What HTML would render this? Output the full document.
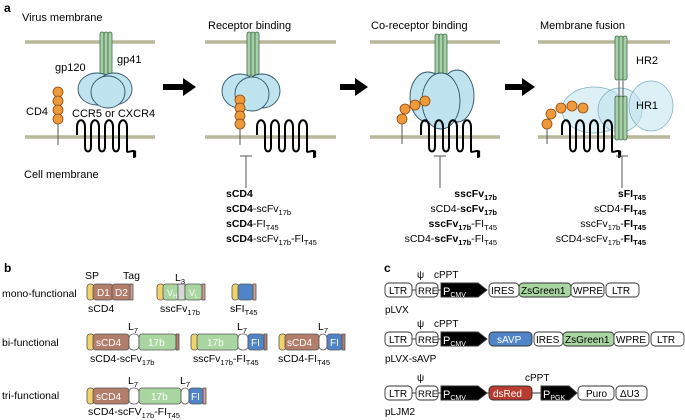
<!DOCTYPE html>
<html><head><meta charset="utf-8"><style>
html,body{margin:0;padding:0;background:#fff;}
svg{display:block;font-family:"Liberation Sans",Arial,sans-serif;}
</style></head><body>
<svg width="685" height="420" viewBox="0 0 685 420" xmlns="http://www.w3.org/2000/svg">
<defs>
<path id="coil" d="M0,20 v-8 c0,-9 8,-9 8,0 v20 c0,6 6,6 6,0 v-20 c0,-9 8,-9 8,0 v20 c0,6 6,6 6,0 v-20 c0,-9 8,-9 8,0 v20 c0,6 6,6 6,0 v-20 c0,-9 8,-9 8,0 v24 c0,2 3,0 6,0 c3,0 3,2 0,2 c3,0 3,2 0,2 c3,0 3,2 0,2" fill="none" stroke="#000" stroke-width="2"/>
<g id="stalk"><rect x="0" y="0" width="4" height="44" rx="2" fill="#a8d0a8" stroke="#3e6b47" stroke-width="0.8"/><rect x="4" y="0" width="4" height="44" rx="2" fill="#a8d0a8" stroke="#3e6b47" stroke-width="0.8"/><rect x="8" y="0" width="4" height="44" rx="2" fill="#a8d0a8" stroke="#3e6b47" stroke-width="0.8"/></g>
</defs>
<g font-size="11">
<text x="4" y="12" font-weight="bold" font-size="12">a</text>
<g stroke="#b8b89c" stroke-width="3.5">
<line x1="25" y1="42" x2="155" y2="42"/><line x1="25" y1="137" x2="155" y2="137"/>
<line x1="205" y1="42" x2="336" y2="42"/><line x1="205" y1="137" x2="336" y2="137"/>
<line x1="370" y1="42" x2="500" y2="42"/><line x1="370" y1="137" x2="500" y2="137"/>
<line x1="538" y1="42" x2="670" y2="42"/><line x1="538" y1="137" x2="670" y2="137"/>
</g>
<!-- panel 1 -->
<text x="22" y="21">Virus membrane</text>
<use href="#stalk" x="100" y="32"/>
<g fill="#bfe3ef" stroke="#2f5566" stroke-width="0.9">
<ellipse cx="97" cy="89" rx="19" ry="16"/><ellipse cx="114" cy="89" rx="18" ry="16"/><ellipse cx="108" cy="92" rx="17" ry="16"/>
</g>
<text x="55" y="71">gp120</text><text x="117" y="63">gp41</text>
<line x1="58" y1="120" x2="58" y2="145" stroke="#555" stroke-width="1"/>
<g fill="#ef9a3a" stroke="#8a4a10" stroke-width="0.8"><circle cx="58" cy="92" r="5"/><circle cx="58" cy="101" r="5"/><circle cx="58" cy="110" r="5"/><circle cx="58" cy="119" r="5"/></g>
<text x="26" y="115">CD4</text><text x="72" y="117">CCR5 or CXCR4</text>
<use href="#coil" x="77" y="115"/>
<text x="24" y="178">Cell membrane</text>
<g fill="#000"><path d="M163,84 h20 v-6 l13,9 -13,9 v-6 h-20z"/><path d="M340,84 h15 v-6 l13,9 -13,9 v-6 h-15z"/><path d="M505,84 h17 v-6 l13,9 -13,9 v-6 h-17z"/></g>
<!-- panel 2 -->
<text x="208" y="29">Receptor binding</text>
<use href="#stalk" x="247" y="32"/>
<g fill="#bfe3ef" stroke="#2f5566" stroke-width="0.9">
<ellipse cx="240" cy="91" rx="18" ry="17"/><ellipse cx="262" cy="91" rx="18" ry="17"/><ellipse cx="252" cy="94" rx="17" ry="17"/>
</g>
<line x1="240" y1="124" x2="240" y2="145" stroke="#555"/>
<g fill="#ef9a3a" stroke="#8a4a10" stroke-width="0.8"><circle cx="240" cy="100" r="5"/><circle cx="240" cy="108" r="5"/><circle cx="240" cy="116" r="5"/><circle cx="240" cy="124" r="5"/></g>
<use href="#coil" x="257" y="115"/>
<g stroke="#555"><line x1="246" y1="156" x2="246" y2="188"/><line x1="240" y1="156" x2="252" y2="156"/></g>
<g font-size="10.5"><text x="226" y="197" font-weight="bold">sCD4</text>
<text x="226" y="212"><tspan font-weight="bold">sCD4</tspan>-scFv<tspan font-size="7.5" dy="3">17b</tspan></text>
<text x="226" y="227"><tspan font-weight="bold">sCD4</tspan>-FI<tspan font-size="7.5" dy="3">T45</tspan></text>
<text x="226" y="242"><tspan font-weight="bold">sCD4</tspan>-scFv<tspan font-size="7.5" dy="3">17b</tspan><tspan dy="-3">-FI</tspan><tspan font-size="7.5" dy="3">T45</tspan></text></g>
<!-- panel 3 -->
<text x="371" y="29">Co-receptor binding</text>
<use href="#stalk" x="435" y="34"/>
<g fill="#bfe3ef" stroke="#2f5566" stroke-width="0.9">
<ellipse cx="428" cy="97" rx="18" ry="25"/><ellipse cx="457" cy="96" rx="17" ry="26"/><ellipse cx="441" cy="101" rx="19" ry="28"/>
</g>
<line x1="402" y1="120" x2="402" y2="144" stroke="#555"/>
<g fill="#ef9a3a" stroke="#8a4a10" stroke-width="0.8"><circle cx="402" cy="119" r="5"/><circle cx="405" cy="109" r="5"/><circle cx="415" cy="105" r="5"/><circle cx="425" cy="101" r="5"/></g>
<use href="#coil" x="421" y="115"/>
<g stroke="#555"><line x1="440" y1="156" x2="440" y2="188"/><line x1="434" y1="156" x2="446" y2="156"/></g>
<g font-size="10.5" text-anchor="end">
<text x="497" y="197" font-weight="bold">sscFv<tspan font-size="7.5" dy="3">17b</tspan></text>
<text x="497" y="212">sCD4-<tspan font-weight="bold">scFv</tspan><tspan font-weight="bold" font-size="7.5" dy="3">17b</tspan></text>
<text x="497" y="227"><tspan font-weight="bold">sscFv</tspan><tspan font-weight="bold" font-size="7.5" dy="3">17b</tspan><tspan dy="-3">-FI</tspan><tspan font-size="7.5" dy="3">T45</tspan></text>
<text x="497" y="242">sCD4-<tspan font-weight="bold">scFv</tspan><tspan font-weight="bold" font-size="7.5" dy="3">17b</tspan><tspan dy="-3">-FI</tspan><tspan font-size="7.5" dy="3">T45</tspan></text></g>
<!-- panel 4 -->
<text x="540" y="29">Membrane fusion</text>
<g fill="#bfe3ef" fill-opacity="0.55" stroke="#7fb0c0" stroke-width="0.7">
<ellipse cx="594" cy="110" rx="32" ry="23"/><ellipse cx="620" cy="110" rx="22" ry="22"/><ellipse cx="651" cy="106" rx="22" ry="25"/>
</g>
<use href="#stalk" x="615" y="36"/>
<g stroke="#333" stroke-width="0.8"><line x1="619" y1="80" x2="619" y2="97"/><line x1="623" y1="80" x2="623" y2="97"/></g>
<use href="#stalk" x="615" y="96"/>
<text x="636" y="64">HR2</text><text x="636" y="109">HR1</text>
<line x1="547" y1="125" x2="547" y2="144" stroke="#555"/>
<g fill="#ef9a3a" stroke="#8a4a10" stroke-width="0.8"><circle cx="547" cy="124" r="5"/><circle cx="551" cy="114" r="5"/><circle cx="561" cy="108" r="5"/><circle cx="572" cy="106" r="5"/><circle cx="583" cy="108" r="5"/></g>
<use href="#coil" x="562" y="115"/>
<g stroke="#555"><line x1="622" y1="156" x2="622" y2="188"/><line x1="616" y1="156" x2="628" y2="156"/></g>
<g font-size="10.5" text-anchor="end">
<text x="646" y="197" font-weight="bold">sFI<tspan font-size="7.5" dy="3">T45</tspan></text>
<text x="646" y="212">sCD4-<tspan font-weight="bold">FI</tspan><tspan font-weight="bold" font-size="7.5" dy="3">T45</tspan></text>
<text x="646" y="227">sscFv<tspan font-size="7.5" dy="3">17b</tspan><tspan dy="-3">-</tspan><tspan font-weight="bold">FI</tspan><tspan font-weight="bold" font-size="7.5" dy="3">T45</tspan></text>
<text x="646" y="242">sCD4-scFv<tspan font-size="7.5" dy="3">17b</tspan><tspan dy="-3">-</tspan><tspan font-weight="bold">FI</tspan><tspan font-weight="bold" font-size="7.5" dy="3">T45</tspan></text></g>
</g>

<!-- panel b -->
<g font-size="10.5">
<text x="4" y="272" font-weight="bold" font-size="12">b</text>
<text x="2" y="297">mono-functional</text>
<text x="2" y="346">bi-functional</text>
<text x="2" y="399">tri-functional</text>
<text x="85" y="279">SP</text><text x="123" y="279">Tag</text>
<text x="175" y="281">L<tspan font-size="7.5" dy="3">3</tspan></text>
<g stroke="#555" stroke-width="0.8">
<rect x="87" y="284" width="7" height="16" rx="3" fill="#f2d36a"/>
<rect x="93" y="284" width="20" height="16" rx="3" fill="#b27d6a"/><rect x="112" y="284" width="19" height="16" rx="3" fill="#b27d6a"/>
<rect x="130" y="284" width="3" height="16" fill="#d49a90"/>
<rect x="157" y="284" width="7" height="16" rx="3" fill="#f2d36a"/>
<rect x="163" y="284" width="16" height="16" rx="3" fill="#a9d6a0"/><rect x="178" y="284" width="7" height="16" fill="#d8d8d8"/><rect x="185" y="284" width="17" height="16" rx="3" fill="#a9d6a0"/>
<rect x="202" y="284" width="3" height="16" fill="#d49a90"/>
<rect x="232" y="284" width="7" height="16" rx="3" fill="#f2d36a"/>
<rect x="238" y="284" width="15" height="16" rx="3" fill="#4f85c8"/><rect x="253" y="284" width="3" height="16" fill="#d49a90"/>
<rect x="87" y="334" width="7" height="16" rx="3" fill="#f2d36a"/>
<rect x="93" y="334" width="36" height="16" rx="3" fill="#b27d6a"/><rect x="129" y="334" width="10" height="16" rx="4" fill="#fff"/>
<rect x="139" y="334" width="37" height="16" rx="3" fill="#a9d6a0"/><rect x="176" y="334" width="3" height="16" fill="#b27d6a"/>
<rect x="191" y="334" width="7" height="16" rx="3" fill="#f2d36a"/>
<rect x="197" y="334" width="41" height="16" rx="3" fill="#a9d6a0"/><rect x="238" y="334" width="10" height="16" rx="4" fill="#fff"/>
<rect x="248" y="334" width="16" height="16" rx="3" fill="#4f85c8"/><rect x="264" y="334" width="3" height="16" fill="#b27d6a"/>
<rect x="279" y="334" width="7" height="16" rx="3" fill="#f2d36a"/>
<rect x="285" y="334" width="34" height="16" rx="3" fill="#b27d6a"/><rect x="319" y="334" width="8" height="16" rx="4" fill="#fff"/>
<rect x="327" y="334" width="15" height="16" rx="3" fill="#4f85c8"/><rect x="342" y="334" width="3" height="16" fill="#b27d6a"/>
<rect x="87" y="388" width="7" height="16" rx="3" fill="#f2d36a"/>
<rect x="93" y="388" width="36" height="16" rx="3" fill="#b27d6a"/><rect x="129" y="388" width="10" height="16" rx="4" fill="#fff"/>
<rect x="139" y="388" width="42" height="16" rx="3" fill="#a9d6a0"/><rect x="181" y="388" width="8" height="16" rx="4" fill="#fff"/>
<rect x="189" y="388" width="14" height="16" rx="3" fill="#4f85c8"/><rect x="203" y="388" width="3" height="16" fill="#d49a90"/>
</g>
<g fill="#fff" font-size="10">
<text x="97" y="296">D1</text><text x="115" y="296">D2</text>
<text x="167" y="296" font-size="9">V<tspan font-size="6" dy="2">H</tspan></text><text x="189" y="296" font-size="9">V<tspan font-size="6" dy="2">L</tspan></text>
<text x="96" y="346">sCD4</text><text x="148" y="346">17b</text>
<text x="207" y="346">17b</text><text x="251" y="346">FI</text>
<text x="287" y="346">sCD4</text><text x="330" y="346">FI</text>
<text x="96" y="400">sCD4</text><text x="151" y="400">17b</text><text x="191" y="400">FI</text>
</g>
<text x="88" y="312">sCD4</text>
<text x="160" y="312">sscFv<tspan font-size="7.5" dy="3">17b</tspan></text>
<text x="230" y="312">sFI<tspan font-size="7.5" dy="3">T45</tspan></text>
<text x="128" y="330">L<tspan font-size="7.5" dy="3">7</tspan></text>
<text x="237" y="330">L<tspan font-size="7.5" dy="3">7</tspan></text>
<text x="318" y="330">L<tspan font-size="7.5" dy="3">7</tspan></text>
<text x="128" y="384">L<tspan font-size="7.5" dy="3">7</tspan></text>
<text x="180" y="384">L<tspan font-size="7.5" dy="3">7</tspan></text>
<text x="90" y="362">sCD4-scFv<tspan font-size="7.5" dy="3">17b</tspan></text>
<text x="193" y="362">sscFv<tspan font-size="7.5" dy="3">17b</tspan><tspan dy="-3">-FI</tspan><tspan font-size="7.5" dy="3">T45</tspan></text>
<text x="278" y="362">sCD4-FI<tspan font-size="7.5" dy="3">T45</tspan></text>
<text x="88" y="415">sCD4-scFV<tspan font-size="7.5" dy="3">17b</tspan><tspan dy="-3">-FI</tspan><tspan font-size="7.5" dy="3">T45</tspan></text>
</g>

<!-- panel c -->
<g font-size="10.5">
<text x="384" y="272" font-weight="bold" font-size="12">c</text>
<g stroke="#333" stroke-width="0.9" fill="#fff">
<line x1="412" y1="290" x2="442" y2="290"/>
<rect x="385" y="283" width="27" height="14" rx="4"/><rect x="416" y="283" width="22" height="14" rx="4"/>
<path d="M441,283 h37 l9,7 -9,7 h-37z" fill="#000"/>
<rect x="489" y="283" width="30" height="14" rx="4"/><rect x="519" y="283" width="52" height="14" rx="4" fill="#a9d6a0"/>
<rect x="571" y="283" width="33" height="14" rx="4"/><rect x="606" y="283" width="33" height="14" rx="4"/>
<line x1="412" y1="339" x2="442" y2="339"/>
<rect x="385" y="332" width="27" height="14" rx="4"/><rect x="416" y="332" width="22" height="14" rx="4"/>
<path d="M441,332 h37 l9,7 -9,7 h-37z" fill="#000"/>
<rect x="489" y="332" width="43" height="14" rx="4" fill="#4f85c8"/>
<rect x="534" y="332" width="29" height="14" rx="4"/><rect x="563" y="332" width="51" height="14" rx="4" fill="#a9d6a0"/>
<rect x="614" y="332" width="35" height="14" rx="4"/><rect x="651" y="332" width="33" height="14" rx="4"/>
<line x1="412" y1="393" x2="545" y2="393"/>
<rect x="385" y="386" width="27" height="14" rx="4"/><rect x="416" y="386" width="22" height="14" rx="4"/>
<path d="M441,386 h37 l9,7 -9,7 h-37z" fill="#000"/>
<rect x="489" y="386" width="43" height="14" rx="4" fill="#b83c2f"/>
<path d="M541,386 h28 l8,7 -8,7 h-28z" fill="#000"/>
<rect x="578" y="386" width="36" height="14" rx="4"/><rect x="616" y="386" width="31" height="14" rx="4"/>
</g>
<g font-size="10">
<text x="417" y="278">ψ</text><text x="434" y="278">cPPT</text>
<text x="389" y="294">LTR</text><text x="418" y="294" font-size="9.5">RRE</text>
<text x="443" y="295" fill="#fff" font-size="11">P<tspan font-size="7" dy="2">CMV</tspan></text>
<text x="491" y="294">IRES</text><text x="521" y="294">ZsGreen1</text><text x="573" y="294">WPRE</text><text x="612" y="294">LTR</text>
<text x="385" y="313">pLVX</text>
<text x="417" y="327">ψ</text><text x="434" y="327">cPPT</text>
<text x="389" y="343">LTR</text><text x="418" y="343" font-size="9.5">RRE</text>
<text x="443" y="344" fill="#fff" font-size="11">P<tspan font-size="7" dy="2">CMV</tspan></text>
<text x="497" y="343" fill="#fff">sAVP</text><text x="536" y="343">IRES</text><text x="565" y="343">ZsGreen1</text><text x="616" y="343">WPRE</text><text x="657" y="343">LTR</text>
<text x="385" y="362">pLVX-sAVP</text>
<text x="417" y="381">ψ</text><text x="525" y="381">cPPT</text>
<text x="389" y="397">LTR</text><text x="418" y="397" font-size="9.5">RRE</text>
<text x="443" y="398" fill="#fff" font-size="11">P<tspan font-size="7" dy="2">CMV</tspan></text>
<text x="493" y="397" fill="#fff">dsRed</text>
<text x="543" y="398" fill="#fff" font-size="11">P<tspan font-size="7" dy="2">PGK</tspan></text>
<text x="586" y="397">Puro</text><text x="620" y="397">ΔU3</text>
<text x="385" y="415">pLJM2</text>
</g>
</g>
</svg>
</body></html>
